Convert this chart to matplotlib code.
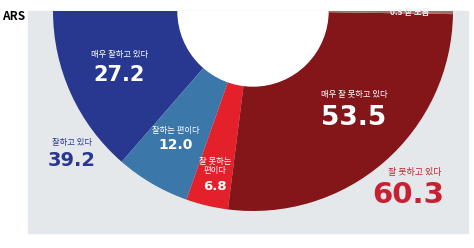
import matplotlib.pyplot as plt
from matplotlib.patches import Rectangle, Circle

plt.rcParams['font.family'] = ['Noto Sans CJK KR', 'DejaVu Sans']

# ---- data ----
categories = ['매우 잘하고 있다', '잘하는 편이다', '잘 못하는 편이다', '매우 잘 못하고 있다', '잘 모름']
values = [27.2, 12.0, 6.8, 53.5, 0.5]
colors = ['#283891', '#3b77a9', '#e4202a', '#84161a', '#9e7068']
positive_total = 39.2
negative_total = 60.3

W, H = 474, 248
fig = plt.figure(figsize=(W / 100, H / 100), dpi=100)
ax = fig.add_axes([0, 0, 1, 1])

# grey panel
ax.add_patch(Rectangle((28, H - 233), 440, 222, color='#e5e8eb', zorder=0))

# half donut: add an invisible remainder so the data spans the lower half
cx, cy = 253, H - 11
wedges, _ = ax.pie(values + [sum(values)], colors=colors + ['none'],
                   startangle=180, counterclock=True, radius=200,
                   center=(cx, cy), wedgeprops=dict(width=125, linewidth=0))
for w in wedges:
    w.set_zorder(1)
    w.set_clip_path(Rectangle((0, 0), W, cy, transform=ax.transData))

# white hole
hole = Circle((cx, cy), 75, color='white', zorder=1.5)
ax.add_patch(hole)
hole.set_clip_path(Rectangle((0, 0), W, cy, transform=ax.transData))

ax.set_xlim(0, W)
ax.set_ylim(0, H)
ax.set_aspect('equal')
ax.axis('off')

NUM = 'DejaVu Sans'


def txt(x, y, s, **kw):
    ax.text(x, H - y, s, ha='center', va='center', zorder=3, **kw)


def num(x, y, v, size, color='white'):
    txt(x, y, f'{v:.1f}', color=color, fontsize=size, fontweight='bold', family=NUM)


txt(120, 55, categories[0], color='white', fontsize=6)
num(119, 75, values[0], 15)
txt(176, 130, categories[1], color='white', fontsize=6)
num(176, 145, values[1], 10)
txt(215, 166, '잘 못하는\n편이다', color='white', fontsize=6, linespacing=1.1)
num(215, 186, values[2], 9.5)
txt(354, 94, categories[3], color='white', fontsize=6)
num(354, 118, values[3], 19)
txt(410, 12, f'{values[4]:.1f} {categories[4]}', color='#eeeeee', fontsize=6,
    fontweight='bold')

txt(72, 143, '잘하고 있다', color='#283891', fontsize=6)
num(72, 161, positive_total, 14, color='#283891')
txt(415, 172, '잘 못하고 있다', color='#c81f32', fontsize=6.5)
num(408, 195, negative_total, 21, color='#c81f32')

txt(14, 16, 'ARS', color='black', fontsize=8.5, fontweight='bold')

plt.savefig('out.png', dpi=100)
